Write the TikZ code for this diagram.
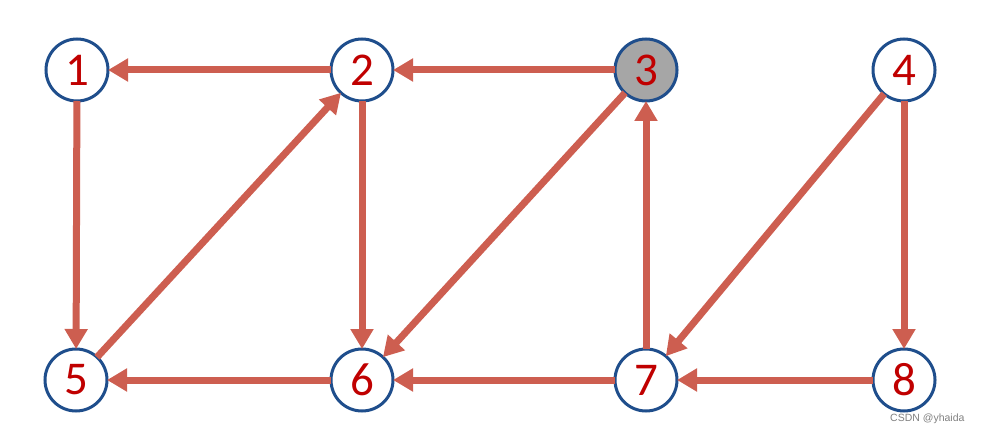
\documentclass[tikz,border=0pt]{standalone}
\usepackage{fontspec}
\setmainfont{Carlito}
\newfontfamily\wmfont{Liberation Sans}
\usetikzlibrary{arrows.meta}
\definecolor{ring}{HTML}{1F4E8C}
\definecolor{num}{HTML}{C00000}
\definecolor{edge}{HTML}{CD5E50}
\definecolor{gfill}{HTML}{A6A6A6}
\tikzset{
  vert/.style={circle, draw=ring, line width=3pt, fill=white, minimum size=62pt, inner sep=0pt, outer sep=0pt, text=num, font=\fontsize{47}{47}\selectfont},
  link/.style={draw=edge, line width=7pt, -{Triangle[length=20pt,width=22pt]}}
}
\begin{document}
\begin{tikzpicture}[x=1pt,y=-1pt]
\useasboundingbox (0,0) rectangle (981,435);
\node[vert] (n1) at (77,70) {1};
\node[vert] (n2) at (362,70) {2};
\node[vert, fill=gfill] (n3) at (646,70) {3};
\node[vert] (n4) at (904,70) {4};
\node[vert] (n5) at (76,380) {5};
\node[vert] (n6) at (362,380) {6};
\node[vert] (n7) at (646,380) {7};
\node[vert] (n8) at (904,380) {8};
\draw[link] (n2) -- (n1);
\draw[link] (n3) -- (n2);
\draw[link] (n1) -- (n5);
\draw[link] (n5) -- (n2);
\draw[link] (n2) -- (n6);
\draw[link] (n3) -- (n6);
\draw[link] (n7) -- (n3);
\draw[link] (n4) -- (n7);
\draw[link] (n4) -- (n8);
\draw[link] (n6) -- (n5);
\draw[link] (n7) -- (n6);
\draw[link] (n8) -- (n7);
\node[font=\wmfont\fontsize{10.5}{10.5}\selectfont, text=gray, anchor=west, inner sep=0pt] (wm) at (890,419) {CSDN @yhaida};
\end{tikzpicture}
\end{document}
